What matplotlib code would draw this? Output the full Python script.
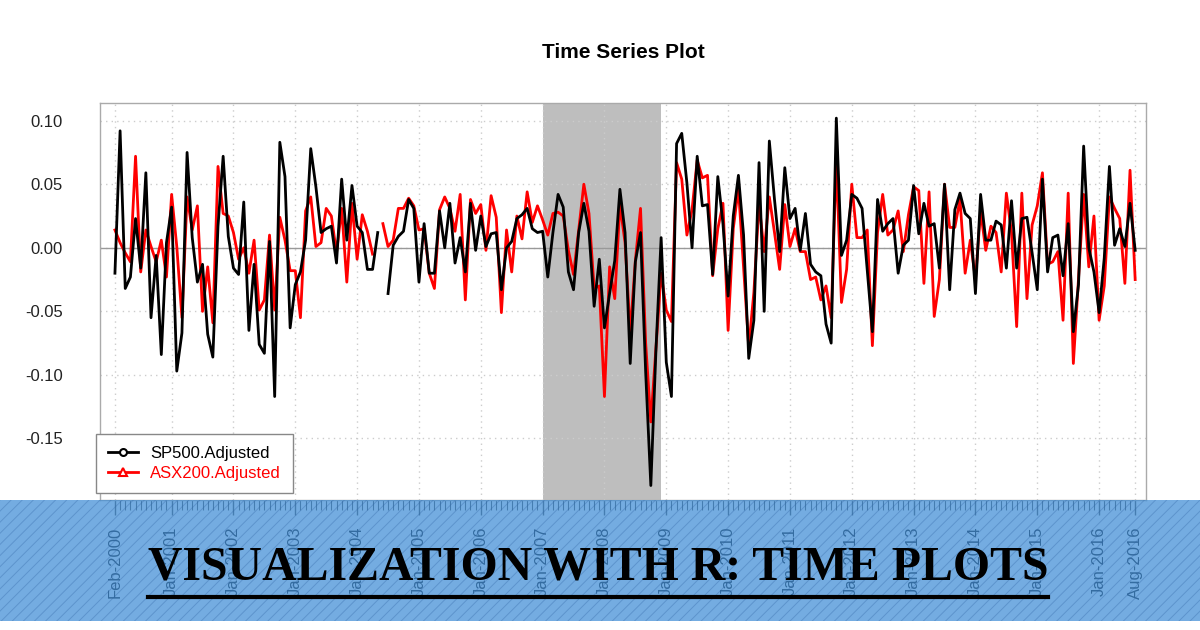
import numpy as np
import pandas as pd
import matplotlib
matplotlib.use("Agg")
import matplotlib.pyplot as plt
from matplotlib.patches import Rectangle
from matplotlib.lines import Line2D
from matplotlib import font_manager

# monthly log returns, Feb 2000 .. Aug 2016
months = list(pd.date_range("2000-02-01", periods=199, freq="MS").strftime("%b-%Y"))

sp500 = [
    -0.020, 0.092, -0.032, -0.023, 0.023, -0.016, 0.059, -0.055, -0.006, -0.084,
    0.004, 0.032, -0.097, -0.067, 0.075, 0.008, -0.027, -0.013, -0.068, -0.086,
    0.017, 0.072, 0.009, -0.016, -0.021, 0.036, -0.065, -0.013, -0.076, -0.083,
    0.005, -0.117, 0.083, 0.056, -0.063, -0.029, -0.019, 0.006, 0.078, 0.048,
    0.012, 0.015, 0.017, -0.012, 0.054, 0.006, 0.049, 0.017, 0.012, -0.017,
    -0.017, 0.012, np.nan, -0.036, 0.002, 0.009, 0.013, 0.038, 0.031, -0.027,
    0.019, -0.020, -0.020, 0.029, 0.000, 0.035, -0.012, 0.008, -0.019, 0.035,
    -0.002, 0.025, 0.001, 0.011, 0.012, -0.033, 0.000, 0.005, 0.023, 0.026,
    0.031, 0.015, 0.012, 0.013, -0.023, 0.012, 0.042, 0.032, -0.019, -0.033,
    0.012, 0.035, 0.013, -0.046, -0.009, -0.063, -0.036, -0.010, 0.046, 0.012,
    -0.091, -0.011, 0.012, -0.098, -0.187, -0.080, 0.008, -0.090, -0.117, 0.082,
    0.090, 0.051, 0.000, 0.072, 0.033, 0.034, -0.021, 0.056, 0.019, -0.038,
    0.025, 0.057, 0.010, -0.087, -0.057, 0.067, -0.050, 0.084, 0.038, -0.003,
    0.063, 0.023, 0.031, -0.002, 0.027, -0.013, -0.019, -0.022, -0.060, -0.075,
    0.102, -0.006, 0.006, 0.042, 0.039, 0.031, -0.017, -0.066, 0.038, 0.013,
    0.019, 0.023, -0.020, 0.002, 0.006, 0.049, 0.011, 0.035, 0.017, 0.019,
    -0.016, 0.050, -0.033, 0.030, 0.043, 0.027, 0.023, -0.036, 0.042, 0.006,
    0.006, 0.021, 0.018, -0.016, 0.037, -0.016, 0.023, 0.024, -0.004, -0.033,
    0.054, -0.019, 0.008, 0.010, -0.022, 0.019, -0.066, -0.029, 0.080, 0.000,
    -0.019, -0.051, -0.008, 0.064, 0.002, 0.015, 0.001, 0.035, -0.002,
]

asx200 = [
    0.014, 0.004, -0.004, -0.011, 0.072, -0.019, 0.014, 0.001, -0.011, 0.006,
    -0.023, 0.042, 0.001, -0.055, 0.040, 0.014, 0.033, -0.050, -0.015, -0.059,
    0.064, 0.027, 0.025, 0.012, -0.009, 0.000, -0.020, 0.006, -0.049, -0.041,
    0.010, -0.049, 0.024, 0.006, -0.018, -0.018, -0.055, 0.029, 0.040, 0.001,
    0.004, 0.031, 0.025, -0.004, 0.031, -0.027, 0.035, -0.009, 0.026, 0.013,
    -0.005, np.nan, 0.019, 0.001, 0.006, 0.031, 0.031, 0.039, 0.033, 0.014,
    0.015, -0.020, -0.032, 0.030, 0.040, 0.031, 0.013, 0.042, -0.041, 0.038,
    0.027, 0.034, -0.002, 0.041, 0.024, -0.051, 0.014, -0.019, 0.025, 0.007,
    0.044, 0.020, 0.033, 0.022, 0.010, 0.027, 0.028, 0.025, -0.002, -0.021,
    0.014, 0.050, 0.027, -0.032, -0.030, -0.117, -0.015, -0.040, 0.034, 0.004,
    -0.067, -0.010, 0.031, -0.075, -0.137, -0.078, -0.020, -0.049, -0.058, 0.067,
    0.054, 0.010, 0.030, 0.069, 0.055, 0.057, -0.022, 0.015, 0.035, -0.065,
    0.015, 0.047, -0.015, -0.078, -0.035, 0.035, -0.003, 0.040, 0.012, -0.017,
    0.034, 0.001, 0.015, -0.003, -0.003, -0.025, -0.023, -0.041, -0.030, -0.055,
    0.069, -0.043, -0.017, 0.050, 0.008, 0.008, 0.014, -0.077, 0.012, 0.042,
    0.010, 0.014, 0.029, -0.003, 0.026, 0.048, 0.045, -0.028, 0.044, -0.054,
    -0.025, 0.050, 0.016, 0.016, 0.038, -0.020, 0.006, -0.025, 0.029, -0.002,
    0.017, 0.012, -0.019, 0.043, 0.012, -0.062, 0.043, -0.040, 0.018, 0.033,
    0.059, -0.013, -0.011, -0.003, -0.057, 0.043, -0.091, -0.025, 0.042, -0.015,
    0.025, -0.057, -0.030, 0.040, 0.031, 0.023, -0.028, 0.061, -0.025,
]

tick_labels = ["Feb-2000"] + ["Jan-%d" % y for y in range(2001, 2017)] + ["Aug-2016"]
y_ticks = [-0.15, -0.10, -0.05, 0.00, 0.05, 0.10]
y_labels = ["-0.15", "-0.10", "-0.05", "0.00", "0.05", "0.10"]
shade = ("Jan-2007", "Dec-2008")
series_names = ["SP500.Adjusted", "ASX200.Adjusted"]

plt.rcParams["font.family"] = ["Liberation Sans", "DejaVu Sans"]
plt.rcParams["hatch.linewidth"] = 0.7

x = np.arange(len(months))
tick_pos = [months.index(t) for t in tick_labels]

fig = plt.figure(figsize=(12, 6.3), dpi=100)
ax = fig.add_axes([100 / 1200, 1 - 500 / 630, 1046 / 1200, 397 / 630])

ax.set_xlim(-2.9, 200.1)
ax.set_ylim(-0.1984, 0.1139)

# shaded period, grid, zero line
ax.axvspan(months.index(shade[0]), months.index(shade[1]), color="#BEBEBE", lw=0, zorder=1)
for t in y_ticks:
    ax.axhline(t, color="#CCCCCC", lw=1, ls=(0, (1, 3)), zorder=1.5)
for p in tick_pos:
    ax.axvline(p, color="#CCCCCC", lw=1, ls=(0, (1, 3)), zorder=1.5)
ax.axhline(0, color="#999999", lw=1, zorder=1.6)

ax.plot(x, asx200, color="red", lw=2.0, zorder=3)
ax.plot(x, sp500, color="black", lw=2.0, zorder=3.1)

ax.set_yticks(y_ticks)
ax.set_yticklabels(y_labels)
ax.set_xticks(tick_pos)
ax.set_xticklabels(tick_labels, rotation=90)
ax.set_xticks(x, minor=True)
ax.tick_params(axis="y", length=0, pad=27, labelsize=12, labelcolor="#222222")
ax.tick_params(axis="x", which="major", length=11, width=1, pad=8, labelsize=12, color="#444444")
ax.tick_params(axis="x", which="minor", length=7, width=0.8, color="#444444")
for s in ax.spines.values():
    s.set_color("#AAAAAA")
    s.set_linewidth(1)

fig.text(623 / 1200, 1 - 52 / 630, "Time Series Plot", ha="center", va="center",
         fontsize=15, fontweight="bold")

handles = [
    Line2D([], [], color="black", lw=2, marker="o", ms=5, mfc="white", mec="black", mew=1.5),
    Line2D([], [], color="red", lw=2, marker="^", ms=6, mfc="white", mec="red", mew=1.5),
]
leg = ax.legend(handles, series_names, loc="lower left", bbox_to_anchor=(-0.004, 0.018),
                borderaxespad=0, fontsize=12, labelcolor="linecolor", fancybox=False,
                framealpha=1, edgecolor="#888888", handlelength=1.8, handletextpad=0.75,
                borderpad=0.72, labelspacing=0.28)
leg.get_frame().set_linewidth(1)

# blue banner across the bottom
banner_y0, banner_h = 1 - 621 / 630, 121 / 630
fig.add_artist(Rectangle((0, banner_y0), 1, banner_h, transform=fig.transFigure,
                         facecolor=(70 / 255, 145 / 255, 215 / 255), alpha=0.75,
                         lw=0, zorder=10))
fig.add_artist(Rectangle((0, banner_y0), 1, banner_h, transform=fig.transFigure,
                         facecolor="none", edgecolor=(0.2, 0.4, 0.65, 0.35), hatch="///",
                         lw=0, zorder=10.5))

names = {f.name for f in font_manager.fontManager.ttflist}
banner_font = next((f for f in ["DejaVu Serif Condensed", "Liberation Serif", "DejaVu Serif"]
                    if f in names), "DejaVu Serif")
banner_txt = fig.text(598 / 1200, 1 - 580 / 630, "VISUALIZATION WITH R: TIME PLOTS",
                      ha="center", va="baseline", fontsize=40, fontweight="bold",
                      family=banner_font, color="black", zorder=11)
fig.canvas.draw()
bb = banner_txt.get_window_extent(fig.canvas.get_renderer())
banner_txt.set_fontsize(40 * 900 / bb.width)

fig.add_artist(Line2D([148 / 1200, 1048 / 1200], [1 - 597 / 630] * 2, transform=fig.transFigure,
                      color="black", lw=3, zorder=11))

fig.savefig("out.png", dpi=100)
